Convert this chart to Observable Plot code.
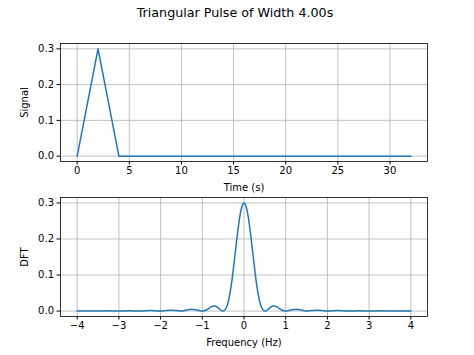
<!DOCTYPE html>
<html><head><meta charset="utf-8">
<script src="https://cdn.jsdelivr.net/npm/d3@7"></script>
<script src="https://cdn.jsdelivr.net/npm/@observablehq/plot@0.6"></script>
<style>
body{margin:0;background:#fff;}
#c{position:relative;width:474px;height:355px;font-family:"DejaVu Sans",sans-serif;}
#title{position:absolute;top:5px;left:-2px;width:474px;text-align:center;font-size:12.7px;line-height:16px;color:#000;}
#p1{position:absolute;top:0;left:0}
#p2{position:absolute;top:195px;left:0}
svg{overflow:visible}
</style></head>
<body><div id="c"><div id="title">Triangular Pulse of Width 4.00s</div><div id="p1"></div><div id="p2"></div></div>
<script>
const titleText = "Triangular Pulse of Width 4.00s";
const time = [0, 2, 4, 32];
const signal = [0, 0.3, 0, 0];
const timeTicks = [0, 5, 10, 15, 20, 25, 30];
const valueTicks = [0, 0.1, 0.2, 0.3];
const freqTicks = [-4, -3, -2, -1, 0, 1, 2, 3, 4];
const freq = [-4,-3.75,-3.5,-3.25,-3,-2.75,-2.5,-2.25,-2,
  -1.875,-1.75,-1.625,-1.5,-1.375,-1.25,-1.125,-1,
  -0.95,-0.9,-0.85,-0.8,-0.75,-0.7,-0.65,-0.6,-0.55,-0.5,-0.45,-0.4,-0.35,-0.3,-0.25,-0.2,-0.15,-0.1,-0.05,
  0,
  0.05,0.1,0.15,0.2,0.25,0.3,0.35,0.4,0.45,0.5,0.55,0.6,0.65,0.7,0.75,0.8,0.85,0.9,0.95,
  1,1.125,1.25,1.375,1.5,1.625,1.75,1.875,
  2,2.25,2.5,2.75,3,3.25,3.5,3.75,4];
const dft = [0,0.0005,0,0.0007,0,0.001,0,0.0015,0,
  0.0015,0.0025,0.0015,0,0.003,0.005,0.003,0,
  0.001,0.003,0.007,0.011,0.0135,0.014,0.012,0.007,0.002,0,0.004,0.016,0.041,0.076,0.122,0.172,0.221,0.263,0.290,
  0.300,
  0.290,0.263,0.221,0.172,0.122,0.076,0.041,0.016,0.004,0,0.002,0.007,0.012,0.014,0.0135,0.011,0.007,0.003,0.001,
  0,0.003,0.005,0.003,0,0.0015,0.0025,0.0015,
  0,0.0015,0,0.001,0,0.0007,0,0.0005,0];

document.getElementById("title").textContent = titleText;
const sigData = time.map((t, i) => ({x: t, y: signal[i]}));
const dftData = freq.map((f, i) => ({x: f, y: dft[i]}));

const common = {
  width: 474, marginLeft: 60, marginRight: 47,
  style: {fontFamily: "DejaVu Sans, sans-serif", fontSize: "10px", color: "#000", background: "transparent", overflow: "visible"}
};
const grid = {stroke: "#b0b0b0", strokeOpacity: 1, strokeWidth: 0.8};
const yFmt = d3.format(".1f");

function panel(data, xdom, xticks, xlabel, ylabel, height, mt, mb, curve) {
  return Plot.plot({
    ...common, height, marginTop: mt, marginBottom: mb,
    x: {domain: xdom}, y: {domain: [-0.015, 0.315]},
    marks: [
      Plot.gridX(xticks, grid),
      Plot.gridY(valueTicks, grid),
      Plot.line(data, {x: "x", y: "y", stroke: "#1f77b4", strokeWidth: 1.5, curve}),
      Plot.frame({stroke: "#000", strokeWidth: 0.8}),
      Plot.axisX({ticks: xticks, tickSize: 3.5, tickPadding: 2, label: xlabel, labelAnchor: "center", labelArrow: "none", labelOffset: 29}),
      Plot.axisY({ticks: valueTicks, tickFormat: yFmt, tickSize: 3.5, tickPadding: 3, label: ylabel, labelAnchor: "center", labelArrow: "none", labelOffset: 40})
    ]
  });
}
document.getElementById("p1").appendChild(panel(sigData, [-1.6, 33.6], timeTicks, "Time (s)", "Signal", 195, 43, 34, "linear"));
document.getElementById("p2").appendChild(panel(dftData, [-4.4, 4.4], freqTicks, "Frequency (Hz)", "DFT", 160, 2, 39, "monotone-x"));
</script>
</body></html>
